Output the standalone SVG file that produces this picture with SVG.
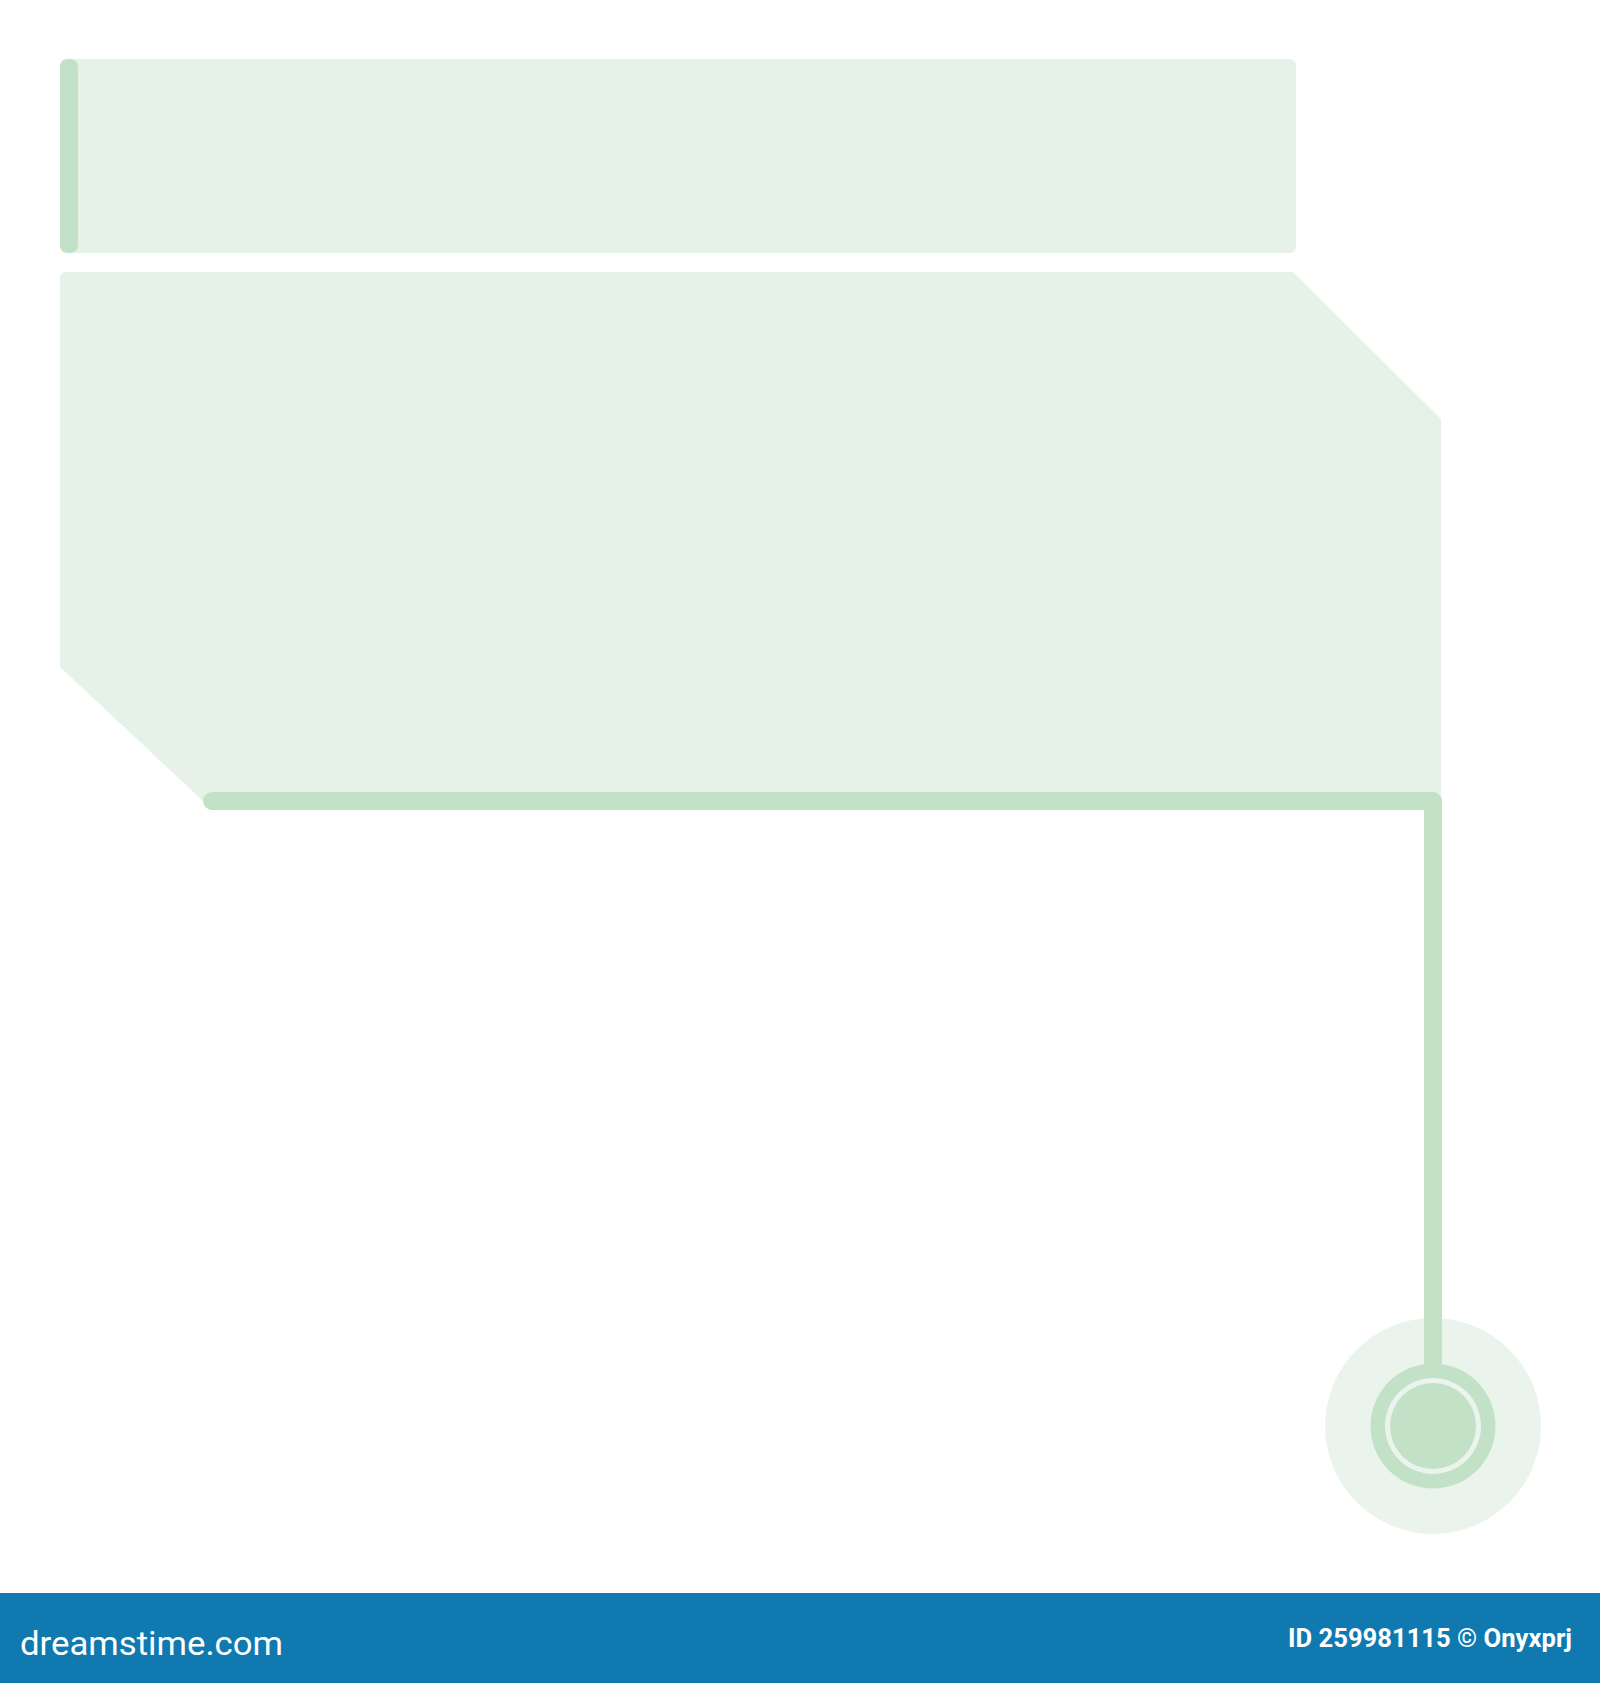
<svg xmlns="http://www.w3.org/2000/svg" width="1600" height="1683" viewBox="0 0 1600 1683">
<style>
.fill{fill:#e6f2e8}
.line{fill:none;stroke:#c3e1c7;stroke-width:18;stroke-linecap:round;stroke-linejoin:round}
.foot{font-family:"Roboto","Liberation Sans",sans-serif;fill:#ffffff}
</style>
<rect width="1600" height="1683" fill="#ffffff"/>
<g id="header-box">
<rect class="fill" x="60" y="59" width="1236" height="194" rx="6"/>
<rect x="60" y="59" width="18" height="194" rx="8" fill="#c3e1c7"/>
</g>
<g id="main-box">
<path class="fill" d="M66,272 L1293,272 L1441,419 L1441,801 L203,801 L60,667 L60,278 Q60,272 66,272 Z"/>
</g>
<g id="end-node">
<circle cx="1433" cy="1426" r="108" fill="#eaf4ec"/>
<circle cx="1433" cy="1426" r="62.5" fill="#c3e1c7"/>
<circle cx="1433" cy="1426" r="48" fill="#eaf4ec"/>
<circle cx="1433" cy="1426" r="43" fill="#c3e1c7"/>
</g>
<g id="connectors">
<polyline class="line" points="212,801 1433,801 1433,1366"/>
</g>
<g id="footer">
<rect x="0" y="1593" width="1600" height="90" fill="#0f79b0"/>
<text class="foot" x="20" y="1655" font-size="33" textLength="263" lengthAdjust="spacingAndGlyphs">dreamstime.com</text>
<text class="foot" x="1288" y="1647" font-size="25" font-weight="bold" textLength="284" lengthAdjust="spacingAndGlyphs">ID 259981115 © Onyxprj</text>
</g>
</svg>
